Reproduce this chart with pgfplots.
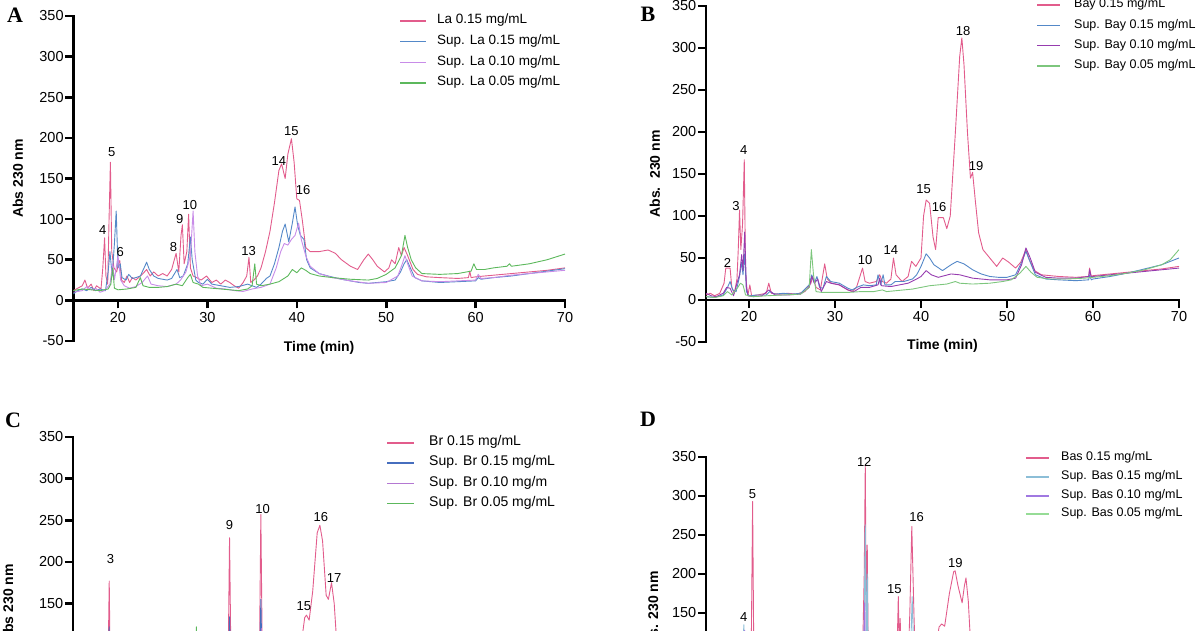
\documentclass[border=0pt]{standalone}
\usepackage{fontspec}
\setmainfont{Liberation Sans}
\newfontfamily\letterfont{Liberation Serif}
\usepackage{pgfplots}
\pgfplotsset{compat=1.18}
\definecolor{cpink}{RGB}{226,92,140}
\definecolor{cblue}{RGB}{84,136,200}
\definecolor{clav}{RGB}{200,140,232}
\definecolor{cgreen}{RGB}{92,184,92}
\definecolor{cpurp}{RGB}{150,60,175}
\definecolor{cbluec}{RGB}{70,110,190}
\definecolor{cpurpc}{RGB}{180,120,210}
\definecolor{clblue}{RGB}{140,190,215}
\definecolor{cpurpd}{RGB}{160,120,225}
\definecolor{clgreen}{RGB}{150,220,150}
\newcommand\tk{\fontsize{14.5}{17}\selectfont}
\newcommand\lb{\bfseries\fontsize{14}{16}\selectfont}
\newcommand\pk{\fontsize{13}{15}\selectfont}
\newcommand\pl{\letterfont\bfseries\fontsize{22}{24}\selectfont}
\pgfplotsset{chrom/.style={
  scale only axis, xmin=15, xmax=70, ymin=-50, ymax=350,
  axis x line=middle, axis y line=left,
  axis line style={-, line width=2.6pt, line cap=rect},
  xtick={20,30,...,70}, ytick={-50,0,...,350},
  hide obscured x ticks=false, hide obscured y ticks=false,
  tick align=outside, major tick length=8pt,
  every tick/.style={black, line width=2.6pt},
  tick label style={font=\tk},
  yticklabel style={inner sep=1.5pt},
  /pgf/number format/assume math mode=true,
  xlabel style={font=\lb, anchor=center},
  ylabel style={font=\lb, anchor=center, rotate=0},
  every axis plot/.append style={line width=0.9pt, line join=round},
  clip=true,
}}
\begin{document}
\begin{tikzpicture}[x=1pt,y=1pt]
\path[use as bounding box] (0,0) rectangle (1200,630);
\clip (0,0) rectangle (1200,630);
% ---------------- A ----------------
\begin{axis}[chrom, at={(73.3pt,289pt)}, anchor=south west, width=491.7pt, height=325pt,
  xlabel={Time (min)}, ylabel={Abs 230 nm},
  xlabel style={at={(axis description cs:0.5,-0.0215)}},
  ylabel style={at={(axis description cs:-0.1125,0.5)}}]
\addplot[cpink] coordinates {(15,12)(15.5,15)(16,18)(16.3,25)(16.6,15)(17,20)(17.3,12)(17.6,18)(18.1,14)(18.3,40)(18.5,77)(18.65,30)(18.85,20)(19.0,100)(19.15,170)(19.3,60)(19.55,40)(19.85,35)(20.05,45)(20.2,49)(20.4,25)(20.7,22)(21.0,30)(21.3,22)(21.6,28)(22.0,25)(22.5,30)(22.8,33)(23.2,38)(23.6,30)(24.0,35)(24.5,30)(25.0,33)(25.5,30)(26.0,38)(26.5,58)(26.8,35)(27.05,80)(27.2,93)(27.4,45)(27.7,60)(27.9,106)(28.1,40)(28.4,30)(28.8,28)(29.3,25)(29.9,30)(30.5,22)(31.0,25)(31.5,20)(32.0,25)(32.5,22)(33.0,18)(33.5,15)(34.0,22)(34.4,30)(34.65,53)(34.85,22)(35.2,25)(35.6,30)(36.0,40)(36.5,60)(37.0,85)(37.5,120)(38.0,160)(38.3,168)(38.7,150)(39.0,180)(39.4,199)(39.7,170)(40.0,125)(40.3,123)(40.6,100)(41.0,65)(41.5,60)(42.5,60)(43.5,62)(44.3,58)(45.0,50)(46.0,42)(46.8,38)(47.5,50)(48.0,57)(48.5,50)(49.0,42)(49.8,35)(50.3,40)(50.6,50)(51.0,45)(51.4,65)(51.7,55)(52.0,65)(52.4,55)(53.0,38)(53.5,32)(54.5,29)(56,28)(58,27)(59.2,28)(59.35,36)(59.5,28)(60,29)(62,31)(64,33)(66,35)(68,37)(70,40)};
\addplot[cblue] coordinates {(15,8)(15.5,12)(16,14)(16.5,12)(17,16)(17.5,12)(18,14)(18.6,12)(18.9,35)(19.1,60)(19.35,30)(19.6,70)(19.8,110)(20.0,40)(20.25,45)(20.45,28)(20.9,25)(21.2,32)(21.6,27)(22.0,28)(22.5,30)(23.0,42)(23.2,47)(23.5,38)(24.0,30)(24.5,27)(25.0,26)(25.5,25)(26.0,27)(26.6,38)(26.9,28)(27.3,30)(27.8,45)(28.1,78)(28.3,50)(28.7,25)(29.0,22)(29.5,20)(30.0,26)(30.5,20)(31.5,18)(32.5,16)(33.5,17)(34.5,20)(35.0,18)(35.5,16)(36.0,20)(36.6,27)(37.0,30)(37.5,45)(38.0,65)(38.4,85)(38.7,94)(39.1,72)(39.5,95)(39.8,115)(40.1,92)(40.4,80)(40.8,75)(41.1,50)(41.5,40)(42.5,33)(43.5,30)(45,26)(46,24)(47,22)(48,21)(49,22)(50,23)(51,25)(51.6,35)(52.0,45)(52.3,50)(52.7,40)(53.2,28)(54,24)(56,22)(58,23)(60,24)(60.3,28)(60.6,26)(62,28)(64,30)(66,33)(68,36)(70,39)};
\addplot[clav] coordinates {(15,10)(16,12)(16.5,17)(17,13)(17.5,15)(18,10)(18.5,12)(19.1,20)(19.4,45)(19.6,25)(20.0,55)(20.3,25)(20.7,18)(21.3,15)(22,17)(22.7,22)(23.3,30)(23.7,20)(24.5,18)(25.5,17)(26.5,20)(27.0,25)(27.6,35)(28.1,55)(28.4,110)(28.6,60)(28.9,30)(29.3,18)(30,20)(31,15)(32,14)(33,12)(34,11)(35,14)(36,16)(37,20)(37.7,40)(38.2,60)(38.6,70)(39.0,68)(39.4,75)(39.8,80)(40.2,95)(40.5,75)(41.0,55)(41.5,42)(42.5,33)(44,28)(46,24)(48,21)(50,22)(51.3,30)(51.8,45)(52.1,55)(52.4,45)(52.9,30)(54,24)(56,23)(58,24)(60,25)(60.3,32)(60.6,27)(62,28)(64,31)(66,33)(68,35)(70,37)};
\addplot[cgreen] coordinates {(15,12)(16,14)(17,13)(18,12)(18.9,14)(19.2,20)(19.4,40)(19.6,15)(20,13)(21,14)(22,16)(22.5,28)(22.8,18)(23.5,16)(24.5,16)(25.5,17)(26.5,20)(27.2,18)(27.8,28)(28.1,32)(28.4,22)(29.0,20)(29.5,16)(30.5,15)(31.5,14)(32.5,13)(33.5,12)(34.5,14)(35.0,18)(35.3,45)(35.5,20)(36,18)(37,20)(38,23)(39,30)(39.5,38)(40,34)(40.5,40)(41,37)(41.5,33)(42.5,30)(44,28)(46,26)(48,25)(49,27)(50,32)(51,40)(51.7,55)(52.1,80)(52.4,65)(52.8,50)(53.3,40)(54,33)(56,32)(58,33)(59.5,36)(59.8,45)(60.1,38)(61,38)(62,40)(63.5,42)(63.8,45)(64,42)(66,45)(68,50)(70,57)};
\node[font=\pk] at (axis cs:18.3,87) {4};
\node[font=\pk] at (axis cs:19.3,182) {5};
\node[font=\pk] at (axis cs:20.25,60) {6};
\node[font=\pk] at (axis cs:26.2,66) {8};
\node[font=\pk] at (axis cs:26.9,100) {9};
\node[font=\pk] at (axis cs:28.05,117) {10};
\node[font=\pk] at (axis cs:34.6,61) {13};
\node[font=\pk] at (axis cs:38.0,171) {14};
\node[font=\pk] at (axis cs:39.4,208) {15};
\node[font=\pk] at (axis cs:40.7,136) {16};
\end{axis}
% ---------------- B ----------------
\begin{axis}[chrom, at={(706pt,288pt)}, anchor=south west, width=473pt, height=336pt,
  xlabel={Time (min)}, ylabel={Abs.\hspace{0.6em}230 nm},
  xlabel style={at={(axis description cs:0.5,-0.012)}},
  ylabel style={at={(axis description cs:-0.108,0.5)}}]
\addplot[cpink] coordinates {(15,6)(15.5,8)(16,5)(16.6,8)(17.1,20)(17.3,38)(17.8,38)(18.0,15)(18.3,8)(18.6,25)(18.75,60)(18.9,107)(19.05,60)(19.25,90)(19.45,167)(19.6,30)(19.85,5)(20.1,18)(20.3,5)(21,6)(22,8)(22.3,20)(22.6,8)(23.5,7)(24.5,8)(25.5,7)(26.5,10)(27.2,20)(27.4,28)(27.8,15)(28.3,12)(28.8,43)(29.1,25)(29.6,20)(30.5,18)(31.5,12)(32.0,10)(32.5,15)(33.2,38)(33.5,22)(34.0,20)(34.8,22)(35.2,30)(35.5,22)(36.0,20)(36.5,25)(36.8,50)(37.1,30)(37.8,22)(38.5,28)(38.9,46)(39.4,40)(40.0,50)(40.3,100)(40.6,119)(41.0,115)(41.4,75)(41.7,60)(42.0,98)(42.6,98)(43.0,85)(43.4,100)(44.0,200)(44.5,290)(44.75,312)(45.0,280)(45.4,200)(45.75,145)(46.0,152)(46.3,120)(46.7,80)(47.2,60)(48.0,50)(48.8,40)(49.5,50)(50.2,45)(51.0,38)(51.6,45)(52.2,60)(52.6,48)(53.2,35)(54.0,30)(56,28)(58,27)(59.5,28)(59.6,38)(59.8,28)(60,29)(62,31)(64,33)(66,35)(68,37)(70,40)};
\addplot[cblue] coordinates {(15,4)(16,3)(17,6)(17.5,15)(17.8,22)(18.1,12)(18.5,10)(18.9,28)(19.15,45)(19.3,30)(19.5,55)(19.7,10)(20.0,5)(21,6)(22,6)(22.4,10)(23,7)(24,8)(25,7)(26,8)(27.0,18)(27.3,30)(27.6,20)(27.9,28)(28.2,15)(28.6,14)(29.0,28)(29.5,22)(30.5,20)(31.5,14)(32.0,12)(32.5,15)(33.3,18)(34,17)(34.8,18)(35.0,30)(35.3,18)(35.6,30)(35.8,18)(36.5,18)(37,22)(38,22)(39,25)(39.5,30)(40.0,40)(40.6,55)(41.0,50)(41.5,42)(42.5,35)(43.5,42)(44.2,46)(45,43)(46,36)(47,31)(48,28)(49,27)(50,27)(51,30)(51.7,45)(52.2,58)(52.7,45)(53.3,30)(54.5,25)(56,24)(58,23)(59.5,24)(59.6,30)(59.8,24)(60,25)(62,28)(64,32)(66,37)(68,42)(70,50)};
\addplot[cpurp] coordinates {(15,8)(15.6,5)(16.2,4)(17,8)(17.4,15)(17.8,14)(18.2,5)(18.6,20)(18.9,30)(19.15,54)(19.3,35)(19.5,81)(19.7,15)(19.9,5)(20.5,4)(21.5,5)(22.3,12)(23,6)(24.5,6)(26,7)(27.0,15)(27.3,28)(27.6,20)(28,25)(28.4,10)(29.0,22)(29.5,20)(30.5,18)(31.5,12)(32.2,10)(33,15)(34,15)(35,18)(35.2,26)(35.4,17)(36.5,16)(37.5,18)(38.5,20)(39.5,25)(40.0,28)(40.6,35)(41.2,30)(42.0,27)(43.5,31)(44.5,30)(46,26)(48,24)(50,24)(51,26)(51.7,42)(52.2,62)(52.7,50)(53.3,33)(54.5,27)(56,26)(58,26)(59.5,28)(59.6,36)(59.8,27)(60,28)(62,30)(64,32)(66,34)(68,36)(70,38)};
\addplot[cgreen!80!white] coordinates {(15,4)(16,3)(17,5)(17.5,10)(18,6)(18.7,15)(19.0,20)(19.3,18)(19.6,6)(20.5,4)(22,5)(24,6)(26,7)(27.0,15)(27.25,60)(27.5,30)(27.8,10)(28.5,9)(29.5,9)(30.5,9)(31.5,9)(33,10)(34.5,10)(35.5,12)(36,10)(37,11)(38,12)(39,13)(40,15)(41,17)(42,18)(43,19)(44,22)(44.5,20)(46,19)(48,20)(49.5,22)(50.5,24)(51.5,32)(52.2,40)(52.8,33)(53.5,27)(55,25)(57,25)(59,26)(60,27)(62,29)(64,32)(66,36)(68,42)(69,48)(70,60)};
\node[font=\pk] at (axis cs:17.5,44) {2};
\node[font=\pk] at (axis cs:18.5,112) {3};
\node[font=\pk] at (axis cs:19.4,178) {4};
\node[font=\pk] at (axis cs:33.5,48) {10};
\node[font=\pk] at (axis cs:36.5,60) {14};
\node[font=\pk] at (axis cs:40.3,132) {15};
\node[font=\pk] at (axis cs:42.1,111) {16};
\node[font=\pk] at (axis cs:44.9,320) {18};
\node[font=\pk] at (axis cs:46.4,159) {19};
\end{axis}
% ---------------- C ----------------
\begin{axis}[chrom, at={(73pt,-140pt)}, anchor=south west, width=492pt, height=333pt,
  ytick={150,200,...,350}, xticklabels={},
  ylabel={Abs 230 nm},
  ylabel style={at={(axis description cs:-0.132,0.5)}}]
\addplot[cpink] coordinates {(15,10)(16,12)(17,15)(18,14)(18.85,18)(19.05,177)(19.2,30)(19.5,20)(21,22)(23,25)(25,28)(27,30)(28.6,32)(28.8,40)(29.0,30)(31,28)(32.3,35)(32.5,229)(32.7,40)(34,35)(35.8,40)(36.0,257)(36.2,45)(38,50)(39.5,70)(40.5,100)(40.9,133)(41.1,136)(41.4,130)(41.8,165)(42.3,235)(42.6,244)(42.9,225)(43.3,160)(43.55,155)(43.9,175)(44.2,150)(44.5,100)(45.0,70)(46,55)(48,45)(50,40)(52,50)(53,35)(55,30)(60,30)(65,33)(70,38)};
\addplot[cbluec] coordinates {(15,8)(18,12)(18.9,15)(19.05,122)(19.2,25)(21,20)(25,22)(28.6,25)(28.8,35)(29.0,25)(32.3,30)(32.5,134)(32.7,30)(35.8,35)(36.0,155)(36.2,40)(38,40)(40,60)(41,75)(42.6,100)(43.9,85)(45,55)(46,40)(50,30)(52,45)(53,30)(60,25)(70,35)};
\addplot[cpurpc] coordinates {(15,9)(18.9,14)(19.05,100)(19.2,20)(25,20)(32.3,25)(32.5,110)(32.7,25)(35.8,30)(36.05,120)(36.3,30)(40,50)(42.6,90)(44,75)(45,45)(50,28)(52,42)(55,25)(70,33)};
\addplot[cgreen] coordinates {(15,8)(20,12)(28.6,18)(28.8,122)(29.0,20)(32.3,18)(32.5,60)(32.8,15)(35.8,18)(36.0,70)(36.2,20)(42.6,40)(50,25)(52,40)(55,28)(70,50)};
\node[font=\pk] at (axis cs:19.2,203) {3};
\node[font=\pk] at (axis cs:32.5,244) {9};
\node[font=\pk] at (axis cs:36.2,264) {10};
\node[font=\pk] at (axis cs:40.8,147) {15};
\node[font=\pk] at (axis cs:42.7,254) {16};
\node[font=\pk] at (axis cs:44.2,181) {17};
\end{axis}
% ---------------- D ----------------
\begin{axis}[chrom, at={(706pt,-139pt)}, anchor=south west, width=473pt, height=312pt,
  ytick={150,200,...,350}, xticklabels={},
  ylabel={Abs. 230 nm},
  ylabel style={at={(axis description cs:-0.112,0.5)}}]
\addplot[cpink] coordinates {(15,10)(17,12)(18.5,15)(19.0,25)(19.3,80)(19.5,30)(20.2,30)(20.42,293)(20.6,35)(21.5,20)(25,22)(30,25)(33.1,40)(33.4,200)(33.52,340)(33.65,120)(33.75,237)(33.9,60)(34.4,35)(37.0,40)(37.3,140)(37.36,171)(37.48,100)(37.58,143)(37.75,60)(38.4,55)(38.7,150)(38.93,261)(39.2,140)(39.5,60)(40.3,55)(41.3,70)(41.8,110)(42.1,132)(42.4,136)(42.75,133)(43.3,175)(43.8,203)(43.97,204)(44.3,185)(44.78,163)(45.05,185)(45.23,195)(45.5,165)(45.77,110)(46.3,70)(47,55)(50,45)(52,60)(53,40)(56,33)(60,32)(70,40)};
\addplot[clblue] coordinates {(15,8)(19.0,20)(19.4,135)(19.7,25)(20.25,25)(20.42,100)(20.6,25)(25,18)(33.3,30)(33.52,263)(33.65,80)(33.75,200)(33.9,40)(37.4,80)(37.8,35)(38.7,60)(38.97,171)(39.3,50)(41,40)(43.8,80)(46,45)(50,30)(52,50)(53,30)(60,25)(70,38)};
\addplot[cpurpd] coordinates {(15,9)(19.2,20)(19.5,128)(19.7,25)(20.25,22)(20.42,90)(20.6,22)(25,18)(33.2,30)(33.45,163)(33.6,40)(33.75,120)(33.9,35)(37.4,70)(37.8,30)(38.9,120)(39.2,40)(41,35)(43.8,70)(46,40)(50,28)(52,55)(53,28)(60,24)(70,36)};
\addplot[clgreen] coordinates {(15,8)(20,10)(33.3,15)(33.52,60)(33.8,15)(38.7,15)(38.95,50)(39.3,15)(43.8,30)(50,25)(52,40)(55,28)(70,55)};
\node[font=\pk] at (axis cs:20.4,303) {5};
\node[font=\pk] at (axis cs:19.4,145) {4};
\node[font=\pk] at (axis cs:33.4,344) {12};
\node[font=\pk] at (axis cs:36.9,181) {15};
\node[font=\pk] at (axis cs:39.5,273) {16};
\node[font=\pk] at (axis cs:44.0,214) {19};
\end{axis}
% ---------------- panel letters ----------------
\node[font=\pl] at (15,615) {A};
\node[font=\pl] at (648,616) {B};
\node[font=\pl] at (13,210) {C};
\node[font=\pl] at (648,211) {D};
% ---------------- legends ----------------
\begin{scope}[every node/.style={anchor=mid west, inner sep=0pt, font=\fontsize{13.5}{15}\selectfont}]
\draw[cpink, line width=1.5pt] (400,609) -- (426,609); \node at (437,609) {La 0.15 mg/mL};
\draw[cblue, line width=1.5pt] (400,588.5) -- (426,588.5); \node at (437,588.5) {Sup. La 0.15 mg/mL};
\draw[clav, line width=1.5pt] (400,567.5) -- (426,567.5); \node at (437,567.5) {Sup. La 0.10 mg/mL};
\draw[cgreen, line width=1.5pt] (400,547) -- (426,547); \node at (437,547) {Sup. La 0.05 mg/mL};
\end{scope}
\begin{scope}[every node/.style={anchor=mid west, inner sep=0pt, font=\fontsize{12.5}{14}\selectfont}]
\draw[cpink, line width=1.5pt] (1037,625) -- (1060,625); \node at (1074,625) {Bay 0.15 mg/mL};
\draw[cblue, line width=1.5pt] (1037,604.5) -- (1060,604.5); \node at (1074,604.5) {Sup. Bay 0.15 mg/mL};
\draw[cpurp, line width=1.5pt] (1037,584.5) -- (1060,584.5); \node at (1074,584.5) {Sup. Bay 0.10 mg/mL};
\draw[cgreen!80!white, line width=1.5pt] (1037,564) -- (1060,564); \node at (1074,564) {Sup. Bay 0.05 mg/mL};
\end{scope}
\begin{scope}[every node/.style={anchor=mid west, inner sep=0pt, font=\fontsize{14}{16}\selectfont}]
\draw[cpink, line width=1.5pt] (387,187) -- (414,187); \node at (429,187) {Br 0.15 mg/mL};
\draw[cbluec, line width=1.5pt] (387,167) -- (414,167); \node at (429,167) {Sup. Br 0.15 mg/mL};
\draw[cpurpc, line width=1.5pt] (387,146.5) -- (414,146.5); \node at (429,146.5) {Sup. Br 0.10 mg/m};
\draw[cgreen, line width=1.5pt] (387,126.5) -- (414,126.5); \node at (429,126.5) {Sup. Br 0.05 mg/mL};
\end{scope}
\begin{scope}[every node/.style={anchor=mid west, inner sep=0pt, font=\fontsize{12.5}{14}\selectfont}]
\draw[cpink, line width=1.5pt] (1026,172) -- (1049,172); \node at (1061,172) {Bas 0.15 mg/mL};
\draw[clblue, line width=1.5pt] (1026,153) -- (1049,153); \node at (1061,153) {Sup. Bas 0.15 mg/mL};
\draw[cpurpd, line width=1.5pt] (1026,134) -- (1049,134); \node at (1061,134) {Sup. Bas 0.10 mg/mL};
\draw[clgreen, line width=1.5pt] (1026,116) -- (1049,116); \node at (1061,116) {Sup. Bas 0.05 mg/mL};
\end{scope}
\end{tikzpicture}
\end{document}
